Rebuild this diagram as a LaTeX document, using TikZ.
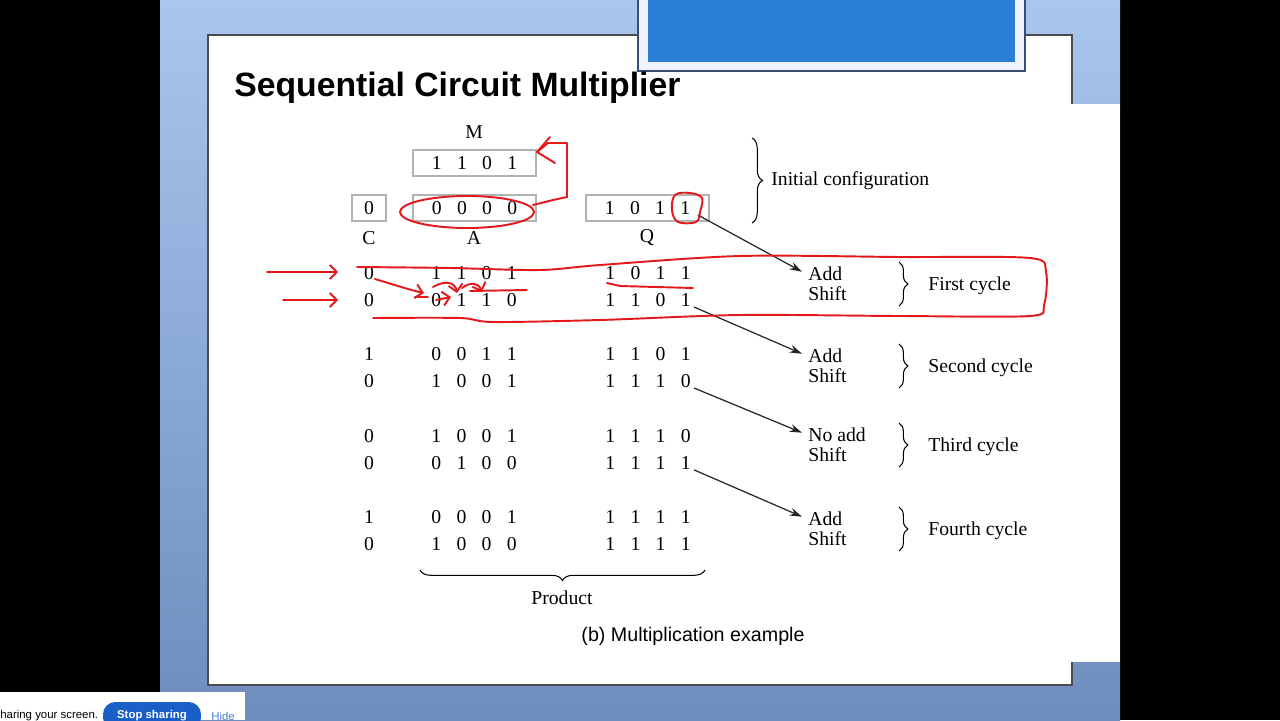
\documentclass[tikz,border=0pt]{standalone}
\usepackage{fontspec}
\setmainfont{Liberation Serif}
\setsansfont{Liberation Sans}
\usetikzlibrary{positioning,arrows.meta,decorations.pathreplacing,calc}

\definecolor{inkred}{HTML}{E3191C}
\definecolor{bgtop}{HTML}{A9C6EE}
\definecolor{bgbot}{HTML}{6E8DBD}
\definecolor{popblue}{HTML}{2A7FD4}
\definecolor{popedge}{HTML}{3A4D78}
\definecolor{btnblue}{HTML}{1A5FC8}

\newcommand{\diagfont}{\fontsize{11.2}{13}\selectfont}
\newcommand{\regbits}[4]{#1\hskip8.7pt#2\hskip8.7pt#3\hskip8.7pt#4}

\begin{document}
\begin{tikzpicture}[x=0.02cm, y=-0.02cm,
    every node/.style={font=\diagfont, inner sep=0pt},
    reg/.style={draw=gray!60, line width=1pt, minimum width=2.46cm, minimum height=0.52cm},
    cbox/.style={reg, minimum width=0.68cm},
    act/.style={anchor=west, align=left, font=\fontsize{11.2}{11.4}\selectfont},
    cyc/.style={anchor=west},
    flow/.style={-{Stealth[length=7pt,width=4.5pt]}, line width=0.7pt, draw=black!85},
    brc/.style={decorate, decoration={brace, amplitude=5pt}, line width=0.6pt},
    ink/.style={draw=inkred, line width=1.1pt, line cap=round, line join=round},
    barb/.style={-{Straight Barb[length=4pt,width=8pt]}},
  ]
  \useasboundingbox (0,0) rectangle (1280,720);
  \clip (0,0) rectangle (1280,720);

  % Screen and slide
  \fill[black] (0,0) rectangle (1280,720);
  \shade[top color=bgtop, bottom color=bgbot] (160,0) rectangle (1120,720);
  \draw[fill=white, draw=black!70, line width=0.8pt] (208,35) rectangle (1072,685);
  \fill[white] (1071,104) rectangle (1120,662);
  \draw[fill=white!95!blue, draw=popedge, line width=0.8pt] (638,-2) rectangle (1025,71);
  \fill[popblue] (648,-2) rectangle (1015,62);

  % Sharing bar
  \fill[white] (0,692) rectangle (245,720);
  \node[anchor=west, font=\sffamily\fontsize{6.5}{8}\selectfont] (share) at (0,716) {haring your screen.};
  \node[fill=btnblue, rounded corners=7pt, text=white, font=\sffamily\bfseries\fontsize{6.5}{8}\selectfont,
        minimum width=1.96cm, minimum height=0.56cm] (stop) at (152,716) {Stop sharing};
  \node[text=btnblue!80!white, font=\sffamily\fontsize{6.5}{8}\selectfont] (hide) at (223,716) {Hide};

  % Title
  \node[anchor=base west, font=\sffamily\bfseries\fontsize{19.2}{22}\selectfont] (title) at (234,96) {Sequential Circuit Multiplier};

  % Initial registers
  \node (mlbl) at (474,132) {M};
  \node[reg] (mreg) at (474.5,163) {\regbits 1101};
  \node[cbox] (creg) at (369,208) {0};
  \node[reg] (areg) at (474.5,208) {\regbits 0000};
  \node[reg] (qreg) at (647.5,208) {\regbits 1011};
  \node (clbl) at (369,238) {C};
  \node (albl) at (474,238) {A};
  \node (qlbl) at (647,238) {Q};
  \draw[brc, decoration={amplitude=6pt}] (752,138) -- (752,223);
  \node[cyc] (init) at (771,181) {Initial configuration};

  % Cycle rows
  \foreach \yy/\cv/\av/\qv/\nm in {273/0/1101/1011/1a, 300/0/0110/1101/1b,
      354/1/0011/1101/2a, 381/0/1001/1110/2b, 436/0/1001/1110/3a, 463/0/0100/1111/3b,
      517/1/0001/1111/4a, 544/0/1000/1111/4b} {
    \node (c\nm) at (369,\yy) {\cv};
    \node (a\nm) at (474,\yy) {\expandafter\regbits\av};
    \node (q\nm) at (648,\yy) {\expandafter\regbits\qv};
  }

  % Actions and cycles
  \foreach \yy/\op/\lbl/\k in {284/Add/First/1, 366/Add/Second/2, 445/No add/Third/3, 529/Add/Fourth/4} {
    \node[act] (act\k) at (808,\yy) {\op\\Shift};
    \draw[brc] (899,\yy-22) -- (899,\yy+22);
    \node[cyc] (cyc\k) at (928,\yy+2) {\lbl{} cycle};
  }

  % Arrows
  \draw[flow] ($(qreg.east)+(-12,7)$) -- ($(act1.north west)+(-6,5)$);
  \foreach \r/\k in {1b/2, 2b/3, 3b/4}
    \draw[flow] ($(q\r.south east)+(3,0)$) -- ($(act\k.north west)+(-6,5)$);

  % Product
  \draw[brc, decoration={amplitude=6pt}] (705,570) -- (420,570);
  \node (prod) at (562,598) {Product};
  \node[font=\sffamily\fontsize{11.2}{13}\selectfont] (cap) at (693,636) {(b) Multiplication example};

  % Red pen notes
  \draw[ink] (467,212) ellipse [x radius=67, y radius=16];
  \draw[ink] (533,205) -- (553,200) -- (567,197) -- (567,143) -- (548,143) -- (537,152);
  \draw[ink] (550,137) -- (537,152) -- (555,163);
  \draw[ink] plot[smooth cycle, tension=0.6] coordinates {(675,195) (690,193) (702,198) (700,212) (696,222) (678,222) (672,210)};
  \draw[ink] plot[smooth, tension=0.5] coordinates {(357,267) (450,268) (540,270) (600,265) (740,256) (900,257) (1030,258)
      (1046,272) (1044,305) (1030,316) (900,316) (740,315) (600,320) (493,322) (460,318) (373,318)};
  \draw[ink, barb] (267,272) -- (338,272);
  \draw[ink, barb] (283,300) -- (338,300);
  \draw[ink, barb] (375,279) .. controls (395,285) and (410,290) .. (424,293);
  \draw[ink] (415,297) -- (428,297);
  \draw[ink, barb] (436,300) -- (451,297);
  \draw[ink, barb] (433,287) .. controls (445,280) and (455,282) .. (457,293);
  \draw[ink, barb] (462,288) .. controls (470,282) and (478,282) .. (482,292);
  \draw[ink] (470,291) -- (527,290);
  \draw[ink] (607,283) -- (620,286) -- (693,288);
\end{tikzpicture}
\end{document}
